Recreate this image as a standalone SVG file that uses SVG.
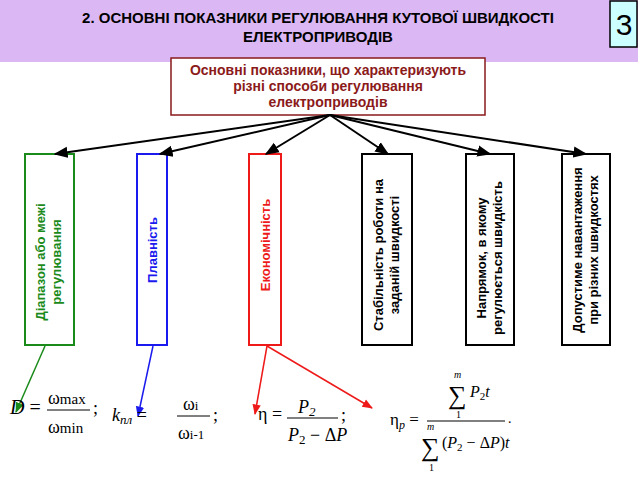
<svg xmlns="http://www.w3.org/2000/svg" width="638" height="478" viewBox="0 0 638 478">
<style>
.t{font-family:"Liberation Sans",Arial,sans-serif;font-weight:bold}
.v{font-family:"Liberation Sans",Arial,sans-serif;font-weight:bold;font-size:13px;text-anchor:middle}
#formulas text{font-family:"Liberation Serif","Times New Roman",serif}
.i{font-style:italic}
.bx{fill:#fff;stroke-width:2}
</style>
<defs>
<marker id="ak" viewBox="0 0 10 10" refX="9" refY="5" markerWidth="7" markerHeight="7" orient="auto"><path d="M0,1 L10,5 L0,9z" fill="#000"/></marker>
<marker id="ag" viewBox="0 0 10 10" refX="9" refY="5" markerWidth="7" markerHeight="7" orient="auto"><path d="M0,1 L10,5 L0,9z" fill="#1a8a1a"/></marker>
<marker id="ab" viewBox="0 0 10 10" refX="9" refY="5" markerWidth="7" markerHeight="7" orient="auto"><path d="M0,1 L10,5 L0,9z" fill="#1a1aee"/></marker>
<marker id="ar" viewBox="0 0 10 10" refX="9" refY="5" markerWidth="7" markerHeight="7" orient="auto"><path d="M0,1 L10,5 L0,9z" fill="#ee1a1a"/></marker>
</defs>
<rect width="638" height="478" fill="#fff"/>
<rect x="0" y="0" width="638" height="62" fill="#dbb8f4"/>
<text class="t" font-size="15" text-anchor="middle" x="318" y="23">2. ОСНОВНІ ПОКАЗНИКИ РЕГУЛЮВАННЯ КУТОВОЇ ШВИДКОСТІ</text>
<text class="t" font-size="15" text-anchor="middle" x="318" y="42">ЕЛЕКТРОПРИВОДІВ</text>
<g id="num"><rect x="610" y="1" width="27" height="46" fill="#ccffff" stroke="#000" stroke-width="1.5"/>
<text font-family="Liberation Sans,Arial,sans-serif" font-size="30" text-anchor="middle" x="624" y="35">3</text></g>
<g id="main"><rect x="171" y="58" width="314" height="57" fill="#fff" stroke="#8b1a1a" stroke-width="1.5"/>
<text class="t" font-size="14" fill="#8b1a1a" text-anchor="middle"><tspan x="328" y="75">Основні показники, що характеризують</tspan><tspan x="328" y="91">різні способи регулювання</tspan><tspan x="328" y="107">електроприводів</tspan></text></g>
<g id="n1"><rect class="bx" x="25" y="154" width="49" height="191" stroke="#1a8a1a"/>
<text class="v" fill="#1a8a1a" transform="translate(49,262) rotate(-90)"><tspan x="0" y="-4">Діапазон або межі</tspan><tspan x="0" y="12">регулювання</tspan></text></g>
<g id="n2"><rect class="bx" x="137" y="154" width="30" height="191" stroke="#1a1aee"/>
<text class="v" fill="#1a1aee" transform="translate(152,250) rotate(-90)" y="5">Плавність</text></g>
<g id="n3"><rect class="bx" x="249" y="154" width="32" height="191" stroke="#ee1a1a"/>
<text class="v" fill="#ee1a1a" transform="translate(265,245) rotate(-90)" y="5">Економічність</text></g>
<g id="n4"><rect class="bx" x="362" y="154" width="50" height="191" stroke="#000"/>
<text class="v" fill="#000" transform="translate(387,255) rotate(-90)"><tspan x="0" y="-4">Стабільність роботи на</tspan><tspan x="0" y="12">заданій швидкості</tspan></text></g>
<g id="n5"><rect class="bx" x="466" y="154" width="48" height="191" stroke="#000"/>
<text class="v" fill="#000" transform="translate(490,258) rotate(-90)"><tspan x="0" y="-4">Напрямок, в якому</tspan><tspan x="0" y="12">регулюється швидкість</tspan></text></g>
<g id="n6"><rect class="bx" x="562" y="154" width="48" height="191" stroke="#000"/>
<text class="v" fill="#000" transform="translate(586,250) rotate(-90)"><tspan x="0" y="-4">Допустиме навантаження</tspan><tspan x="0" y="12">при різних швидкостях</tspan></text></g>
<g id="connectors" stroke-width="2" fill="none">
<g stroke="#000" marker-end="url(#ak)">
<line x1="330" y1="115" x2="55" y2="154"/>
<line x1="330" y1="115" x2="160" y2="154"/>
<line x1="330" y1="115" x2="266" y2="154"/>
<line x1="330" y1="115" x2="388" y2="154"/>
<line x1="330" y1="115" x2="490" y2="154"/>
<line x1="330" y1="115" x2="586" y2="154"/>
</g>
<line x1="45" y1="346" x2="16" y2="412" stroke="#1a8a1a" stroke-width="1.5" marker-end="url(#ag)"/>
<line x1="153" y1="346" x2="138" y2="416" stroke="#1a1aee" stroke-width="1.5" marker-end="url(#ab)"/>
<line x1="267" y1="346" x2="255" y2="414" stroke="#ee1a1a" stroke-width="1.5" marker-end="url(#ar)"/>
<line x1="267" y1="346" x2="372" y2="408" stroke="#ee1a1a" stroke-width="1.5" marker-end="url(#ar)"/>
</g>
<g id="formulas" fill="#000">
<text x="10" y="414" font-size="20"><tspan class="i">D</tspan> =</text>
<text x="48" y="404" font-size="18">ω<tspan font-size="15">max</tspan></text>
<line x1="47" y1="410" x2="90" y2="410" stroke="#000" stroke-width="1"/>
<text x="48" y="433" font-size="18">ω<tspan font-size="15">min</tspan></text>
<text x="93" y="414" font-size="18">;</text>
<text x="112" y="421" font-size="18"><tspan class="i">k</tspan><tspan class="i" font-size="13" dy="3">пл</tspan><tspan dy="-3"> =</tspan></text>
<text x="183" y="410" font-size="18">ω<tspan font-size="13">i</tspan></text>
<line x1="177" y1="416" x2="210" y2="416" stroke="#000" stroke-width="1"/>
<text x="178" y="439" font-size="18">ω<tspan font-size="13">i-1</tspan></text>
<text x="213" y="421" font-size="18">;</text>
<text x="258" y="420" font-size="18">η =</text>
<text x="298" y="413" class="i" font-size="18">P<tspan font-size="13" dy="3">2</tspan></text>
<line x1="287" y1="418" x2="338" y2="418" stroke="#000" stroke-width="1"/>
<text x="288" y="441" font-size="18"><tspan class="i">P</tspan><tspan font-size="13" dy="3">2</tspan><tspan dy="-3"> − Δ</tspan><tspan class="i">P</tspan></text>
<text x="341" y="421" font-size="18">;</text>
<text x="390" y="425" font-size="17">η<tspan class="i" font-size="12" dy="4">p</tspan><tspan dy="-4"> =</tspan></text>
<text x="454" y="378" class="i" font-size="10">m</text>
<text x="448" y="404" font-size="26">∑</text>
<text x="470" y="397" font-size="16"><tspan class="i">P</tspan><tspan font-size="11" dy="3">2</tspan><tspan class="i" dy="-3">t</tspan></text>
<text x="456" y="418" font-size="10">1</text>
<line x1="427" y1="421" x2="505" y2="421" stroke="#000" stroke-width="1"/>
<text x="508" y="423" font-size="14">.</text>
<text x="427" y="430" class="i" font-size="10">m</text>
<text x="421" y="456" font-size="26">∑</text>
<text x="442" y="448" font-size="16">(<tspan class="i">P</tspan><tspan font-size="11" dy="3">2</tspan><tspan dy="-3"> − Δ</tspan><tspan class="i">P</tspan>)<tspan class="i">t</tspan></text>
<text x="429" y="471" font-size="10">1</text>
</g>
</svg>
